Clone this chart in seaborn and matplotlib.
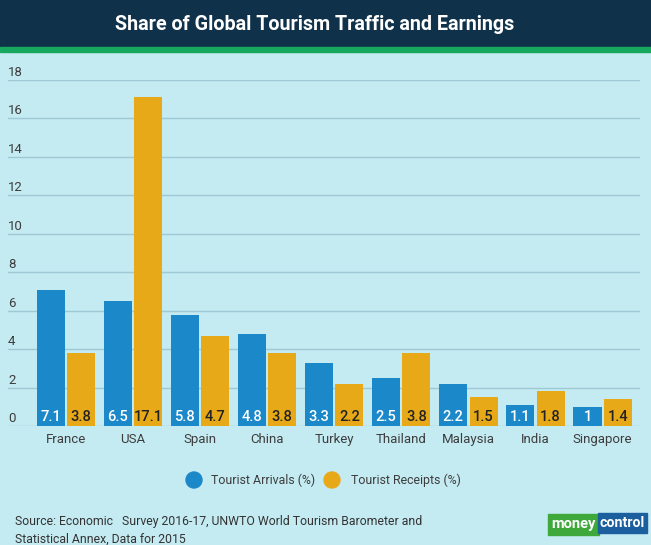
import matplotlib
matplotlib.use("Agg")
import matplotlib.pyplot as plt
import matplotlib.transforms as mtransforms
from matplotlib.patches import Rectangle, Ellipse
import seaborn as sns
import pandas as pd

countries = ["France", "USA", "Spain", "China", "Turkey", "Thailand", "Malaysia", "India", "Singapore"]
arrivals = [7.1, 6.5, 5.8, 4.8, 3.3, 2.5, 2.2, 1.1, 1.0]
receipts = [3.8, 17.1, 4.7, 3.8, 2.2, 3.8, 1.5, 1.8, 1.4]
series_names = ["Tourist Arrivals (%)", "Tourist Receipts (%)"]
y_ticks = [0, 2, 4, 6, 8, 10, 12, 14, 16, 18]
title = "Share of Global Tourism Traffic and Earnings"
source_lines = ["Source: Economic   Survey 2016-17, UNWTO World Tourism Barometer and",
                "Statistical Annex, Data for 2015"]

BLUE = "#1b88c9"
ORANGE = "#e7a918"
BG = "#c4eaf2"
NAVY = "#0f314a"
GREEN = "#17a85e"
GRID = "#9ecad6"
TXT = "#3d3d3d"

df = pd.DataFrame({
    "country": countries * 2,
    "value": arrivals + receipts,
    "series": [series_names[0]] * len(countries) + [series_names[1]] * len(countries),
})

sns.set_theme(style="white")
plt.rcParams["font.family"] = ["Roboto", "DejaVu Sans"]

W, H = 651, 545
fig = plt.figure(figsize=(W / 100, H / 100), dpi=100)
fig.patch.set_facecolor(BG)

def fx(px):
    return px / W

def fy(py):
    return 1 - py / H

# header
fig.add_artist(Rectangle((0, fy(47)), 1, 47 / H, transform=fig.transFigure, color=NAVY, zorder=0))
fig.add_artist(Rectangle((0, fy(52)), 1, 5 / H, transform=fig.transFigure, color=GREEN, zorder=0))
fig.text(fx(314.5), fy(24), title, color="white", fontsize=14.2, fontweight="bold",
         ha="center", va="center")

# axes
left, right, top, bottom = 8, 640, 80, 426
ax = fig.add_axes([fx(left), fy(bottom), (right - left) / W, (bottom - top) / H])
ax.set_facecolor(BG)

sns.barplot(data=df, x="country", y="value", hue="series", palette=[BLUE, ORANGE],
            width=0.903, gap=0.074, saturation=1, legend=False, ax=ax, zorder=3,
            linewidth=0, edgecolor="none")

ax.set_xlim(-0.861, 8.557)
ax.set_ylim(0, 18)
ax.set_yticks(y_ticks)
ax.set_yticklabels([])
ax.tick_params(axis="y", length=0)
ax.yaxis.grid(True, color=GRID, linewidth=1)
ax.set_axisbelow(True)
for s in ax.spines.values():
    s.set_visible(False)
ax.set_xlabel("")
ax.set_ylabel("")
ax.tick_params(axis="x", length=0, pad=5, labelsize=9.5, labelcolor=TXT)

# y tick labels above gridlines at the left
ytr = mtransforms.offset_copy(ax.get_yaxis_transform(), fig=fig, x=0, y=1, units="dots")
for t in y_ticks:
    ax.text(0, t, str(t), transform=ytr, ha="left", va="bottom", fontsize=9.5, color=TXT)

# value labels inside bars at the bottom
ltr = mtransforms.offset_copy(ax.transData, fig=fig, x=0, y=9, units="dots")
label_colors = ["white", "#222222"]
for cont, col in zip(ax.containers, label_colors):
    for bar in cont:
        v = bar.get_height()
        ax.text(bar.get_x() + bar.get_width() / 2, 0, f"{v:g}", transform=ltr,
                ha="center", va="center", fontsize=10.5, color=col, fontweight="medium", zorder=5)

# legend
for cx, col, tx, name in [(194, BLUE, 211, series_names[0]), (332, ORANGE, 351, series_names[1])]:
    fig.add_artist(Ellipse((fx(cx), fy(480)), 16 / W, 16 / H, transform=fig.transFigure,
                           color=col, zorder=2))
    fig.text(fx(tx), fy(480), name, ha="left", va="center", fontsize=8.9, color=TXT)

# source
fig.text(fx(15), fy(522), source_lines[0], ha="left", va="center", fontsize=8.8, color="#333333")
fig.text(fx(15), fy(539), source_lines[1], ha="left", va="center", fontsize=8.8, color="#333333")

# logo
fig.add_artist(Rectangle((fx(548), fy(535)), 51 / W, 21 / H, transform=fig.transFigure,
                         color="#3ea83a", zorder=2))
fig.add_artist(Rectangle((fx(598), fy(533)), 49 / W, 20 / H, transform=fig.transFigure,
                         color="#1b5f9f", zorder=2))
fig.text(fx(573.5), fy(524), "money", ha="center", va="center", fontsize=10.5,
         color="white", fontweight="bold", zorder=3)
fig.text(fx(622.5), fy(523), "control", ha="center", va="center", fontsize=10.2,
         color="white", fontweight="bold", zorder=3)

fig.savefig("out.png", dpi=100, facecolor=BG)
